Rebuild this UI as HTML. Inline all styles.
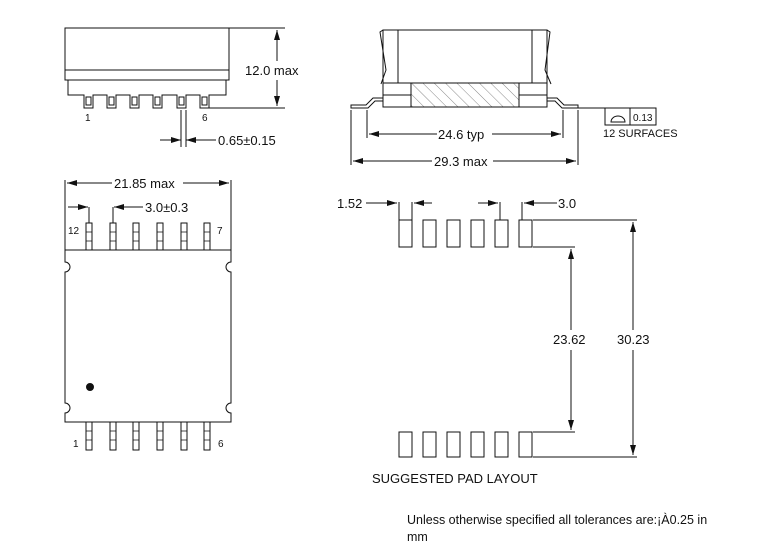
<!DOCTYPE html>
<html><head><style>html,body{margin:0;padding:0;background:#fff}svg{display:block}text{font-family:"Liberation Sans",sans-serif;fill:#111}</style></head>
<body>
<svg width="781" height="546" viewBox="0 0 781 546" xmlns="http://www.w3.org/2000/svg" stroke="#111" fill="none" stroke-width="1">
<defs>
<marker id="a" viewBox="0 0 10 6" refX="10" refY="3" markerWidth="10" markerHeight="6" orient="auto-start-reverse" markerUnits="userSpaceOnUse"><path d="M0,0 L10,3 L0,6 z" fill="#111" stroke="none"/></marker>
<pattern id="h" width="8" height="8" patternUnits="userSpaceOnUse" patternTransform="rotate(-45)"><line x1="0" y1="0" x2="0" y2="8" stroke="#555" stroke-width="0.7"/></pattern>
</defs>
<rect x="65" y="28" width="164" height="52"/>
<line x1="65" y1="70" x2="229" y2="70"/>
<path d="M68,80 V95 H84 V108 H93 V95 H107 V108 H116 V95 H130 V108 H139 V95 H153 V108 H162 V95 H177 V108 H186 V95 H200 V108 H209 V95 H226 V80"/>
<g>
<rect x="86" y="97" width="5" height="8"/><rect x="109" y="97" width="5" height="8"/><rect x="132" y="97" width="5" height="8"/><rect x="155" y="97" width="5" height="8"/><rect x="179" y="97" width="5" height="8"/><rect x="202" y="97" width="5" height="8"/>
</g>
<line x1="229" y1="28" x2="285" y2="28"/><line x1="209" y1="108" x2="285" y2="108"/>
<line x1="277" y1="30" x2="277" y2="62" marker-start="url(#a)"/><line x1="277" y1="80" x2="277" y2="106" marker-end="url(#a)"/>
<rect x="243" y="61" width="62" height="16" fill="#fff" stroke="none"/>
<text x="245" y="75" font-size="13" stroke="none">12.0 max</text>
<text x="85" y="121" font-size="10" stroke="none">1</text><text x="202" y="121" font-size="10" stroke="none">6</text>
<line x1="181" y1="110" x2="181" y2="147"/><line x1="186" y1="110" x2="186" y2="147"/>
<line x1="160" y1="140" x2="181" y2="140" marker-end="url(#a)"/><line x1="216" y1="140" x2="186" y2="140" marker-end="url(#a)"/>
<text x="218" y="145" font-size="13" stroke="none">0.65±0.15</text>
<rect x="383" y="30" width="164" height="53"/>
<line x1="398" y1="30" x2="398" y2="83"/><line x1="532" y1="30" x2="532" y2="83"/>
<path d="M383,30 L380,32 L386,70 L381,84"/><path d="M547,30 L550,32 L545,70 L551,84"/>
<rect x="383" y="83" width="28" height="24"/><rect x="519" y="83" width="28" height="24"/>
<rect x="411" y="83" width="108" height="24" fill="url(#h)"/>
<line x1="383" y1="95" x2="411" y2="95"/><line x1="519" y1="95" x2="547" y2="95"/>
<path d="M383,98 H373 L366,105 H351 V108 H368 L375,101 H383"/>
<path d="M547,98 H557 L564,105 H578 V108 H562 L555,101 H547"/>
<line x1="578" y1="108" x2="605" y2="108"/>
<rect x="605" y="108" width="51" height="17"/><line x1="630" y1="108" x2="630" y2="125"/>
<path d="M611,122 A7,6 0 0 1 625,122 Z"/>
<text x="633" y="121" font-size="10" stroke="none">0.13</text>
<text x="603" y="137" font-size="11" stroke="none">12 SURFACES</text>
<line x1="367" y1="110" x2="367" y2="138"/><line x1="563" y1="110" x2="563" y2="138"/>
<line x1="351" y1="110" x2="351" y2="165"/><line x1="578" y1="110" x2="578" y2="165"/>
<line x1="437" y1="134" x2="369" y2="134" marker-end="url(#a)"/><line x1="492" y1="134" x2="561" y2="134" marker-end="url(#a)"/>
<text x="438" y="139" font-size="13" stroke="none">24.6 typ</text>
<line x1="432" y1="161" x2="353" y2="161" marker-end="url(#a)"/><line x1="493" y1="161" x2="576" y2="161" marker-end="url(#a)"/>
<text x="434" y="166" font-size="13" stroke="none">29.3 max</text>
<path d="M65,250 H231 V262 A5,5 0 0 0 231,272 V403 A5,5 0 0 0 231,413 V422 H65 V413 A5,5 0 0 0 65,403 V272 A5,5 0 0 0 65,262 Z"/>
<circle cx="90" cy="387" r="3.5" fill="#111"/>
<g>
<rect x="86" y="223" width="6" height="27"/><rect x="110" y="223" width="6" height="27"/><rect x="133" y="223" width="6" height="27"/><rect x="157" y="223" width="6" height="27"/><rect x="181" y="223" width="6" height="27"/><rect x="204" y="223" width="6" height="27"/>
<rect x="86" y="422" width="6" height="28"/><rect x="110" y="422" width="6" height="28"/><rect x="133" y="422" width="6" height="28"/><rect x="157" y="422" width="6" height="28"/><rect x="181" y="422" width="6" height="28"/><rect x="204" y="422" width="6" height="28"/>
</g>
<g stroke-width="0.7">
<path d="M86,232H92M86,241H92M110,232H116M110,241H116M133,232H139M133,241H139M157,232H163M157,241H163M181,232H187M181,241H187M204,232H210M204,241H210"/>
<path d="M86,431H92M86,440H92M110,431H116M110,440H116M133,431H139M133,440H139M157,431H163M157,440H163M181,431H187M181,440H187M204,431H210M204,440H210"/>
</g>
<text x="68" y="234" font-size="10" stroke="none">12</text><text x="217" y="234" font-size="10" stroke="none">7</text>
<text x="73" y="447" font-size="10" stroke="none">1</text><text x="218" y="447" font-size="10" stroke="none">6</text>
<line x1="65" y1="180" x2="65" y2="250"/><line x1="231" y1="180" x2="231" y2="250"/>
<line x1="112" y1="183" x2="67" y2="183" marker-end="url(#a)"/><line x1="183" y1="183" x2="229" y2="183" marker-end="url(#a)"/>
<text x="114" y="188" font-size="13" stroke="none">21.85 max</text>
<line x1="68" y1="207" x2="88" y2="207" marker-end="url(#a)"/><line x1="89" y1="207" x2="89" y2="223"/>
<line x1="113" y1="207" x2="113" y2="223"/><line x1="143" y1="207" x2="114" y2="207" marker-end="url(#a)"/>
<text x="145" y="212" font-size="13" stroke="none">3.0±0.3</text>
<g>
<rect x="399" y="220" width="13" height="27"/><rect x="423" y="220" width="13" height="27"/><rect x="447" y="220" width="13" height="27"/><rect x="471" y="220" width="13" height="27"/><rect x="495" y="220" width="13" height="27"/><rect x="519" y="220" width="13" height="27"/>
<rect x="399" y="432" width="13" height="25"/><rect x="423" y="432" width="13" height="25"/><rect x="447" y="432" width="13" height="25"/><rect x="471" y="432" width="13" height="25"/><rect x="495" y="432" width="13" height="25"/><rect x="519" y="432" width="13" height="25"/>
</g>
<line x1="533" y1="220" x2="637" y2="220"/><line x1="533" y1="457" x2="637" y2="457"/>
<line x1="533" y1="247" x2="575" y2="247"/><line x1="533" y1="432" x2="575" y2="432"/>
<line x1="571" y1="330" x2="571" y2="249" marker-end="url(#a)"/><line x1="571" y1="350" x2="571" y2="430" marker-end="url(#a)"/>
<line x1="633" y1="330" x2="633" y2="222" marker-end="url(#a)"/><line x1="633" y1="350" x2="633" y2="455" marker-end="url(#a)"/>
<text x="553" y="344" font-size="13" stroke="none">23.62</text>
<text x="617" y="344" font-size="13" stroke="none">30.23</text>
<line x1="399" y1="202" x2="399" y2="220"/><line x1="412" y1="202" x2="412" y2="220"/>
<line x1="366" y1="203" x2="397" y2="203" marker-end="url(#a)"/><line x1="432" y1="203" x2="414" y2="203" marker-end="url(#a)"/>
<text x="337" y="208" font-size="13" stroke="none">1.52</text>
<line x1="500" y1="202" x2="500" y2="220"/><line x1="522" y1="202" x2="522" y2="220"/>
<line x1="478" y1="203" x2="498" y2="203" marker-end="url(#a)"/><line x1="557" y1="203" x2="524" y2="203" marker-end="url(#a)"/>
<text x="558" y="208" font-size="13" stroke="none">3.0</text>
<text x="372" y="483" font-size="13" stroke="none">SUGGESTED PAD LAYOUT</text>
<text x="407" y="524" font-size="12.5" stroke="none">Unless otherwise specified all tolerances are:¡À0.25 in</text>
<text x="407" y="541" font-size="12.5" stroke="none">mm</text>
</svg>
</body></html>
